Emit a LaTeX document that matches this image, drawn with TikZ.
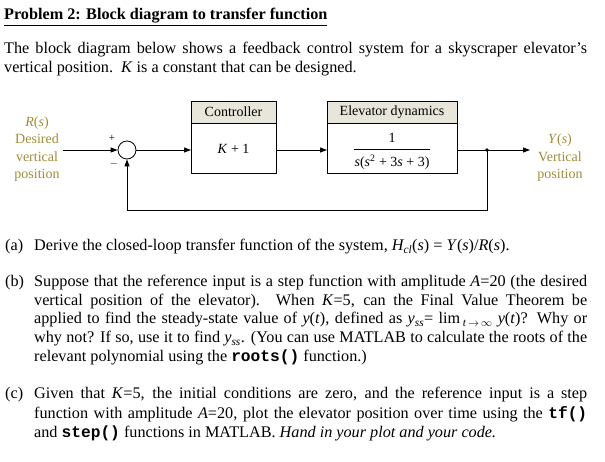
\documentclass[tikz,border=0pt]{standalone}
\usepackage{fontspec}
\setmainfont{Liberation Serif}
\setmonofont{Liberation Mono}
\usetikzlibrary{arrows.meta}
\definecolor{lab}{HTML}{A08C36}
\definecolor{hdr}{HTML}{E8E5DA}
\begin{document}
\begin{tikzpicture}[x=1pt,y=-1pt,
  txt/.style={anchor=west,inner sep=0pt,font=\fontsize{16.2}{18}\selectfont},
  lbl/.style={inner sep=0pt,text=lab,font=\fontsize{14}{17.5}\selectfont},
  blk/.style={draw,line width=0.8pt},
  sig/.style={line width=0.9pt,-{Triangle[length=7pt,width=5pt]}},
  bl/.style={inner sep=0pt,font=\fontsize{14}{16}\selectfont}]
\useasboundingbox (0,0) rectangle (605,462);
% title and intro
\node[txt,font=\fontsize{16.2}{18}\bfseries] (title) at (4,17) {\underline{Problem 2: Block diagram to transfer function}};
\node[txt] (p1) at (4,50) {\makebox[583pt][s]{The block diagram below shows a feedback control system for a skyscraper elevator’s}};
\node[txt] (p2) at (4,69) {vertical position.\ \ \textit{K} is a constant that can be designed.};
% diagram
\draw[blk,fill=hdr] (191,101) rectangle (276,123);
\draw[blk] (191,101) rectangle (276,173);
\node[bl] (ch) at (233.5,112) {Controller};
\node[bl] (ctrl) at (233.5,149) {\textit{K} + 1};
\draw[blk,fill=hdr] (327,101) rectangle (457,123);
\draw[blk] (327,101) rectangle (457,173);
\node[bl] (eh) at (392,112) {Elevator dynamics};
\node[bl] (pnum) at (392,138) {1};
\node[bl] (pden) at (392,162) {\textit{s}(\textit{s}\textsuperscript{2} + 3\textit{s} + 3)};
\draw[line width=0.5pt] (pden.west |- 0,149.5) -- (pden.east |- 0,149.5);
\node[draw,circle,line width=0.8pt,minimum size=18pt,inner sep=0pt] (sum) at (127,150) {};
\node[bl,font=\fontsize{11}{12}\selectfont] (plus) at (112,138) {+};
\node[bl,font=\fontsize{11}{12}\selectfont] (minus) at (114,164) {$-$};
\coordinate (in) at (63,150);
\coordinate (ctrlL) at (191,150);
\coordinate (ctrlR) at (276,150);
\coordinate (plantL) at (327,150);
\coordinate (plantR) at (457,150);
\coordinate (br) at (487,150);
\coordinate (out) at (530,150);
\coordinate (fb1) at (487,210);
\coordinate (fb2) at (127,210);
\draw[sig] (in) -- (sum);
\draw[sig] (sum) -- (ctrlL);
\draw[sig] (ctrlR) -- (plantL);
\draw[sig] (plantR) -- (out);
\draw[sig] (br) -- (fb1) -- (fb2) -- (sum);
\fill (br) circle (1.8pt);
\node[lbl] (r) at (37,123) {\textit{R}(\textit{s})};
\node[lbl,align=center] (rd) at (37,158) {Desired\\vertical\\position};
\node[lbl] (y) at (560,140) {\textit{Y}(\textit{s})};
\node[lbl,align=center] (yd) at (560,166.5) {Vertical\\position};
% questions
\node[txt] (qa) at (5,247) {(a)};
\node[txt] (a1) at (34,247) {Derive the closed-loop transfer function of the system, \textit{H\textsubscript{cl}}(\textit{s}) = \textit{Y}(\textit{s})/\textit{R}(\textit{s}).};
\node[txt] (qb) at (5,283) {(b)};
\node[txt] (b1) at (34,283) {\makebox[553pt][s]{Suppose that the reference input is a step function with amplitude \textit{A}=20 (the desired}};
\node[txt] (b2) at (34,302) {\makebox[553pt][s]{vertical position of the elevator). When \textit{K}=5, can the Final Value Theorem be}};
\node[txt] (b3) at (34,320) {\makebox[553pt][s]{applied to find the steady-state value of \textit{y}(\textit{t}), defined as \textit{y\textsubscript{ss}}= lim\,\textsubscript{\textit{t}\,$\to$\,$\infty$} \textit{y}(\textit{t})? Why or}};
\node[txt] (b4) at (34,339) {\makebox[553pt][s]{why not? If so, use it to find \textit{y\textsubscript{ss}}. (You can use MATLAB to calculate the roots of the}};
\node[txt] (b5) at (34,357) {relevant polynomial using the \texttt{\textbf{roots()}} function.)};
\node[txt] (qc) at (5,395) {(c)};
\node[txt] (c1) at (34,395) {\makebox[553pt][s]{Given that \textit{K}=5, the initial conditions are zero, and the reference input is a step}};
\node[txt] (c2) at (34,414) {\makebox[553pt][s]{function with amplitude \textit{A}=20, plot the elevator position over time using the \texttt{\textbf{tf()}}}};
\node[txt] (c3) at (34,433) {and \texttt{\textbf{step()}} functions in MATLAB. \textit{Hand in your plot and your code.}};
\end{tikzpicture}
\end{document}
